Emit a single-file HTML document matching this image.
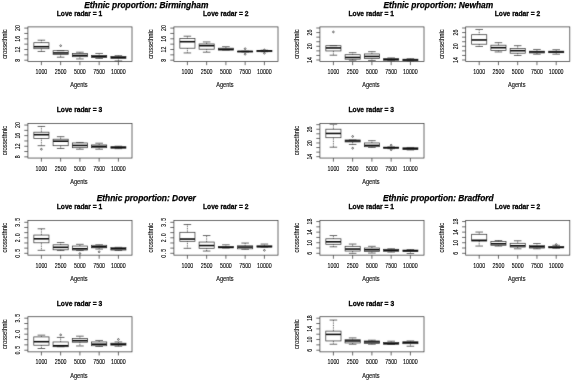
<!DOCTYPE html>
<html><head><meta charset="utf-8"><title>Ethnic proportion boxplots</title>
<style>
html,body{margin:0;padding:0;background:#fff}
svg{display:block}
text{font-family:"Liberation Sans",Arial,sans-serif;fill:#000;stroke:#000;stroke-width:0.08px}
.ln{fill:none;stroke:#3c3c3c;stroke-width:0.75}
.bx{fill:#fff;stroke:#3c3c3c;stroke-width:0.75}
.wh{fill:none;stroke:#3c3c3c;stroke-width:0.75;stroke-dasharray:1 0.7}
.md{fill:none;stroke:#111;stroke-width:1.6}
.ax{font-size:5.2px}
.xl{font-size:5.3px}
.lab{font-size:5.6px;fill:#111;stroke:#111;stroke-width:0.12px}
.yl{font-size:5.85px;fill:#1a1a1a;stroke:#1a1a1a;stroke-width:0.1px}
.tt{font-size:6.7px;font-weight:bold;fill:#000;stroke:#000;stroke-width:0.28px}
.mt{font-size:8.4px;font-weight:bold;font-style:italic;fill:#000;stroke:#000;stroke-width:0.25px}
</style></head>
<body>
<svg width="572" height="381" viewBox="0 0 572 381">
<defs><filter id="soft" x="0" y="0" width="572" height="381" filterUnits="userSpaceOnUse" color-interpolation-filters="sRGB"><feConvolveMatrix order="3" kernelMatrix="0.015 0.055 0.015 0.055 0.72 0.055 0.015 0.055 0.015" divisor="1" preserveAlpha="false" edgeMode="none"/></filter></defs>
<rect width="572" height="381" fill="#fff"/>
<g filter="url(#soft)">
<g><rect x="27.9" y="26.9" width="104.1" height="34.65" class="ln"/><path d="M27.9 28.1h-3.6M27.9 33.45h-3.6M27.9 38.8h-3.6M27.9 44.15h-3.6M27.9 49.5h-3.6M27.9 54.85h-3.6M27.9 60.2h-3.6M41.4 61.55v3.6M60.65 61.55v3.6M79.9 61.55v3.6M99.15 61.55v3.6M118.4 61.55v3.6" class="ln"/><rect x="33.84" y="42.7" width="15.12" height="6" class="bx"/><path d="M41.4 42.7V40.2M41.4 48.7V51.45" class="wh"/><path d="M37.62 40.2h7.56M37.62 51.45h7.56" class="ln"/><path d="M33.84 46.7h15.12" class="md"/><rect x="53.09" y="50.7" width="15.12" height="3.75" class="bx"/><path d="M60.65 54.45V57.2" class="wh"/><path d="M56.87 50.7h7.56M56.87 57.2h7.56" class="ln"/><path d="M53.09 52.95h15.12" class="md"/><circle cx="60.65" cy="45.7" r="0.85" class="ln"/><rect x="72.34" y="53.45" width="15.12" height="3.25" class="bx"/><path d="M79.9 53.45V52.2M79.9 56.7V58.95" class="wh"/><path d="M76.12 52.2h7.56M76.12 58.95h7.56" class="ln"/><path d="M72.34 55.45h15.12" class="md"/><rect x="91.59" y="55.45" width="15.12" height="2" class="bx"/><path d="M99.15 55.45V53.45M99.15 57.45V58.45" class="wh"/><path d="M95.37 53.45h7.56M95.37 58.45h7.56" class="ln"/><path d="M91.59 56.45h15.12" class="md"/><rect x="110.84" y="56.45" width="15.12" height="2" class="bx"/><path d="M118.4 56.45V55.7M118.4 58.45V60.95" class="wh"/><path d="M114.62 55.7h7.56M114.62 60.95h7.56" class="ln"/><path d="M110.84 57.45h15.12" class="md"/></g>
<g><rect x="173.9" y="26.9" width="104.1" height="34.65" class="ln"/><path d="M173.9 28.1h-3.6M173.9 33.45h-3.6M173.9 38.8h-3.6M173.9 44.15h-3.6M173.9 49.5h-3.6M173.9 54.85h-3.6M173.9 60.2h-3.6M187.4 61.55v3.6M206.65 61.55v3.6M225.9 61.55v3.6M245.15 61.55v3.6M264.4 61.55v3.6" class="ln"/><rect x="179.84" y="38.45" width="15.12" height="9.75" class="bx"/><path d="M187.4 38.45V36.2M187.4 48.2V52.95" class="wh"/><path d="M183.62 36.2h7.56M183.62 52.95h7.56" class="ln"/><path d="M179.84 41.7h15.12" class="md"/><rect x="199.09" y="43.95" width="15.12" height="5.25" class="bx"/><path d="M206.65 43.95V41.95M206.65 49.2V52.2" class="wh"/><path d="M202.87 41.95h7.56M202.87 52.2h7.56" class="ln"/><path d="M199.09 45.7h15.12" class="md"/><rect x="218.34" y="48.2" width="15.12" height="1.88" class="bx"/><path d="M225.9 48.2V46.7" class="wh"/><path d="M222.12 46.7h7.56M222.12 50.08h7.56" class="ln"/><path d="M218.34 49.33h15.12" class="md"/><rect x="237.59" y="51.2" width="15.12" height="0.75" class="bx"/><path d="M241.37 51.2h7.56M241.37 51.95h7.56" class="ln"/><path d="M237.59 51.45h15.12" class="md"/><circle cx="245.15" cy="48.7" r="0.85" class="ln"/><circle cx="245.15" cy="54.2" r="0.85" class="ln"/><rect x="256.84" y="50.45" width="15.12" height="1.25" class="bx"/><path d="M260.62 50.2h7.56M260.62 51.7h7.56" class="ln"/><path d="M256.84 50.95h15.12" class="md"/><circle cx="264.4" cy="49.95" r="0.85" class="ln"/><circle cx="264.4" cy="53.2" r="0.85" class="ln"/></g>
<g><rect x="27.9" y="123.4" width="104.1" height="34.65" class="ln"/><path d="M27.9 125.05h-3.6M27.9 130.35h-3.6M27.9 135.65h-3.6M27.9 140.95h-3.6M27.9 146.25h-3.6M27.9 151.55h-3.6M27.9 156.85h-3.6M41.4 158.05v3.6M60.65 158.05v3.6M79.9 158.05v3.6M99.15 158.05v3.6M118.4 158.05v3.6" class="ln"/><rect x="33.84" y="132.2" width="15.12" height="6.25" class="bx"/><path d="M41.4 132.2V126.45M41.4 138.45V145.7" class="wh"/><path d="M37.62 126.45h7.56M37.62 145.7h7.56" class="ln"/><path d="M33.84 134.7h15.12" class="md"/><circle cx="41.4" cy="149.2" r="0.85" class="ln"/><rect x="53.09" y="139.2" width="15.12" height="6.5" class="bx"/><path d="M60.65 139.2V136.7M60.65 145.7V148.45" class="wh"/><path d="M56.87 136.7h7.56M56.87 148.45h7.56" class="ln"/><path d="M53.09 141.2h15.12" class="md"/><rect x="72.34" y="142.95" width="15.12" height="4.75" class="bx"/><path d="M79.9 142.95V142.45M79.9 147.7V149.2" class="wh"/><path d="M76.12 142.45h7.56M76.12 149.2h7.56" class="ln"/><path d="M72.34 145.45h15.12" class="md"/><rect x="91.59" y="144.95" width="15.12" height="2.75" class="bx"/><path d="M99.15 144.95V143.2M99.15 147.7V149.2" class="wh"/><path d="M95.37 143.2h7.56M95.37 149.2h7.56" class="ln"/><path d="M91.59 146.45h15.12" class="md"/><rect x="110.84" y="146.7" width="15.12" height="1.5" class="bx"/><path d="M118.4 146.7V146.2M118.4 148.2V148.7" class="wh"/><path d="M114.62 146.2h7.56M114.62 148.7h7.56" class="ln"/><path d="M110.84 147.45h15.12" class="md"/></g>
<g><rect x="319.9" y="26.9" width="104.1" height="34.65" class="ln"/><path d="M319.9 60h-3.6M319.9 55.43h-3.6M319.9 50.86h-3.6M319.9 46.29h-3.6M319.9 41.72h-3.6M319.9 37.15h-3.6M319.9 32.58h-3.6M319.9 28.01h-3.6M333.4 61.55v3.6M352.65 61.55v3.6M371.9 61.55v3.6M391.15 61.55v3.6M410.4 61.55v3.6" class="ln"/><rect x="325.84" y="45.7" width="15.12" height="5.25" class="bx"/><path d="M333.4 50.95V55.2" class="wh"/><path d="M329.62 45.7h7.56M329.62 55.2h7.56" class="ln"/><path d="M325.84 47.95h15.12" class="md"/><circle cx="333.4" cy="31.95" r="0.85" class="ln"/><rect x="345.09" y="54.7" width="15.12" height="4.5" class="bx"/><path d="M352.65 54.7V52.7M352.65 59.2V60.2" class="wh"/><path d="M348.87 52.7h7.56M348.87 60.2h7.56" class="ln"/><path d="M345.09 57.45h15.12" class="md"/><rect x="364.34" y="53.95" width="15.12" height="4.5" class="bx"/><path d="M371.9 53.95V51.7M371.9 58.45V60.45" class="wh"/><path d="M368.12 51.7h7.56M368.12 60.45h7.56" class="ln"/><path d="M364.34 56.45h15.12" class="md"/><rect x="383.59" y="58.7" width="15.12" height="1.5" class="bx"/><path d="M391.15 58.7V57.95M391.15 60.2V60.7" class="wh"/><path d="M387.37 57.95h7.56M387.37 60.7h7.56" class="ln"/><path d="M383.59 59.45h15.12" class="md"/><rect x="402.84" y="59.2" width="15.12" height="1.5" class="bx"/><path d="M410.4 59.2V58.7" class="wh"/><path d="M406.62 58.7h7.56M406.62 60.95h7.56" class="ln"/><path d="M402.84 59.95h15.12" class="md"/></g>
<g><rect x="465.7" y="26.9" width="104.1" height="34.65" class="ln"/><path d="M465.7 60h-3.6M465.7 55.43h-3.6M465.7 50.86h-3.6M465.7 46.29h-3.6M465.7 41.72h-3.6M465.7 37.15h-3.6M465.7 32.58h-3.6M465.7 28.01h-3.6M479.2 61.55v3.6M498.45 61.55v3.6M517.7 61.55v3.6M536.95 61.55v3.6M556.2 61.55v3.6" class="ln"/><rect x="471.64" y="34.7" width="15.12" height="9.5" class="bx"/><path d="M479.2 34.7V29.45M479.2 44.2V46.45" class="wh"/><path d="M475.42 29.45h7.56M475.42 46.45h7.56" class="ln"/><path d="M471.64 39.95h15.12" class="md"/><rect x="490.89" y="45.2" width="15.12" height="5.25" class="bx"/><path d="M498.45 45.2V42.7M498.45 50.45V51.95" class="wh"/><path d="M494.67 42.7h7.56M494.67 51.95h7.56" class="ln"/><path d="M490.89 47.7h15.12" class="md"/><rect x="510.14" y="48.45" width="15.12" height="4.75" class="bx"/><path d="M517.7 48.45V45.7M517.7 53.2V55.45" class="wh"/><path d="M513.92 45.7h7.56M513.92 55.45h7.56" class="ln"/><path d="M510.14 50.7h15.12" class="md"/><rect x="529.39" y="51.2" width="15.12" height="1.75" class="bx"/><path d="M536.95 51.2V49.45M536.95 52.95V54.2" class="wh"/><path d="M533.17 49.45h7.56M533.17 54.2h7.56" class="ln"/><path d="M529.39 51.95h15.12" class="md"/><rect x="548.64" y="51.2" width="15.12" height="1.5" class="bx"/><path d="M556.2 51.2V49.7M556.2 52.7V54.2" class="wh"/><path d="M552.42 49.7h7.56M552.42 54.2h7.56" class="ln"/><path d="M548.64 51.95h15.12" class="md"/></g>
<g><rect x="319.9" y="123.4" width="104.1" height="34.65" class="ln"/><path d="M319.9 156.7h-3.6M319.9 152.12h-3.6M319.9 147.55h-3.6M319.9 142.97h-3.6M319.9 138.4h-3.6M319.9 133.82h-3.6M319.9 129.25h-3.6M319.9 124.67h-3.6M333.4 158.05v3.6M352.65 158.05v3.6M371.9 158.05v3.6M391.15 158.05v3.6M410.4 158.05v3.6" class="ln"/><rect x="325.84" y="129.2" width="15.12" height="8.5" class="bx"/><path d="M333.4 129.2V124.2M333.4 137.7V147.2" class="wh"/><path d="M329.62 124.2h7.56M329.62 147.2h7.56" class="ln"/><path d="M325.84 133.45h15.12" class="md"/><rect x="345.09" y="139.95" width="15.12" height="2" class="bx"/><path d="M352.65 141.95V144.45" class="wh"/><path d="M348.87 139.95h7.56M348.87 144.45h7.56" class="ln"/><path d="M345.09 140.95h15.12" class="md"/><circle cx="352.65" cy="136.45" r="0.85" class="ln"/><circle cx="352.65" cy="148.2" r="0.85" class="ln"/><rect x="364.34" y="142.95" width="15.12" height="3.75" class="bx"/><path d="M371.9 142.95V140.7M371.9 146.7V147.45" class="wh"/><path d="M368.12 140.7h7.56M368.12 147.45h7.56" class="ln"/><path d="M364.34 145.45h15.12" class="md"/><rect x="383.59" y="147.2" width="15.12" height="1" class="bx"/><path d="M391.15 148.2V148.7" class="wh"/><path d="M387.37 146.95h7.56M387.37 148.7h7.56" class="ln"/><path d="M383.59 147.7h15.12" class="md"/><circle cx="391.15" cy="145.2" r="0.85" class="ln"/><circle cx="391.15" cy="149.7" r="0.85" class="ln"/><rect x="402.84" y="147.7" width="15.12" height="1.75" class="bx"/><path d="M410.4 149.45V149.95" class="wh"/><path d="M406.62 147.45h7.56M406.62 149.95h7.56" class="ln"/><path d="M402.84 148.7h15.12" class="md"/></g>
<g><rect x="27.9" y="220.5" width="104.1" height="34.65" class="ln"/><path d="M27.9 253.3h-3.6M27.9 248.13h-3.6M27.9 242.97h-3.6M27.9 237.8h-3.6M27.9 232.63h-3.6M27.9 227.46h-3.6M27.9 222.3h-3.6M41.4 255.15v3.6M60.65 255.15v3.6M79.9 255.15v3.6M99.15 255.15v3.6M118.4 255.15v3.6" class="ln"/><rect x="33.84" y="235.05" width="15.12" height="7.75" class="bx"/><path d="M41.4 235.05V228.8M41.4 242.8V250.3" class="wh"/><path d="M37.62 228.8h7.56M37.62 250.3h7.56" class="ln"/><path d="M33.84 238.8h15.12" class="md"/><rect x="53.09" y="244.8" width="15.12" height="5" class="bx"/><path d="M60.65 244.8V242.55M60.65 249.8V250.55" class="wh"/><path d="M56.87 242.55h7.56M56.87 250.55h7.56" class="ln"/><path d="M53.09 247.3h15.12" class="md"/><rect x="72.34" y="246.05" width="15.12" height="4" class="bx"/><path d="M79.9 246.05V244.3M79.9 250.05V250.55" class="wh"/><path d="M76.12 244.3h7.56M76.12 250.55h7.56" class="ln"/><path d="M72.34 248.8h15.12" class="md"/><circle cx="79.9" cy="253.55" r="0.85" class="ln"/><rect x="91.59" y="245.3" width="15.12" height="2.5" class="bx"/><path d="M99.15 245.3V244.8M99.15 247.8V249.05" class="wh"/><path d="M95.37 244.8h7.56M95.37 249.05h7.56" class="ln"/><path d="M91.59 246.8h15.12" class="md"/><circle cx="99.15" cy="251.8" r="0.85" class="ln"/><rect x="110.84" y="247.55" width="15.12" height="2.5" class="bx"/><path d="M118.4 250.05V250.55" class="wh"/><path d="M114.62 247.3h7.56M114.62 250.55h7.56" class="ln"/><path d="M110.84 248.8h15.12" class="md"/></g>
<g><rect x="173.9" y="220.5" width="104.1" height="34.65" class="ln"/><path d="M173.9 253.3h-3.6M173.9 248.13h-3.6M173.9 242.97h-3.6M173.9 237.8h-3.6M173.9 232.63h-3.6M173.9 227.46h-3.6M173.9 222.3h-3.6M187.4 255.15v3.6M206.65 255.15v3.6M225.9 255.15v3.6M245.15 255.15v3.6M264.4 255.15v3.6" class="ln"/><rect x="179.84" y="232.3" width="15.12" height="9" class="bx"/><path d="M187.4 232.3V224.55M187.4 241.3V248.3" class="wh"/><path d="M183.62 224.55h7.56M183.62 248.3h7.56" class="ln"/><path d="M179.84 239.05h15.12" class="md"/><rect x="199.09" y="242.05" width="15.12" height="6.25" class="bx"/><path d="M206.65 242.05V235.55M206.65 248.3V251.05" class="wh"/><path d="M202.87 235.55h7.56M202.87 251.05h7.56" class="ln"/><path d="M199.09 245.55h15.12" class="md"/><rect x="218.34" y="246.55" width="15.12" height="1.25" class="bx"/><path d="M225.9 246.55V244.8" class="wh"/><path d="M222.12 244.8h7.56M222.12 248.05h7.56" class="ln"/><path d="M218.34 247.3h15.12" class="md"/><rect x="237.59" y="245.8" width="15.12" height="3" class="bx"/><path d="M245.15 245.8V243.05M245.15 248.8V249.3" class="wh"/><path d="M241.37 243.05h7.56M241.37 249.3h7.56" class="ln"/><path d="M237.59 247.05h15.12" class="md"/><rect x="256.84" y="245.8" width="15.12" height="1.25" class="bx"/><path d="M264.4 245.8V244.05" class="wh"/><path d="M260.62 244.05h7.56M260.62 247.05h7.56" class="ln"/><path d="M256.84 246.55h15.12" class="md"/><circle cx="264.4" cy="250.3" r="0.85" class="ln"/></g>
<g><rect x="27.9" y="316.72" width="104.1" height="35.14" class="ln"/><path d="M27.9 350.21h-3.6M27.9 344.87h-3.6M27.9 339.53h-3.6M27.9 334.2h-3.6M27.9 328.86h-3.6M27.9 323.52h-3.6M27.9 318.18h-3.6M41.4 351.86v3.6M60.65 351.86v3.6M79.9 351.86v3.6M99.15 351.86v3.6M118.4 351.86v3.6" class="ln"/><rect x="33.78" y="336.91" width="15.23" height="8.31" class="bx"/><path d="M41.4 336.91V335.15M41.4 345.22V348.5" class="wh"/><path d="M37.59 335.15h7.62M37.59 348.5h7.62" class="ln"/><path d="M33.78 341.7h15.23" class="md"/><rect x="53.03" y="341.95" width="15.23" height="4.78" class="bx"/><path d="M60.65 341.95V337.42" class="wh"/><path d="M56.84 337.42h7.62M56.84 346.73h7.62" class="ln"/><path d="M53.03 345.73h15.23" class="md"/><circle cx="60.65" cy="334.9" r="0.85" class="ln"/><rect x="72.28" y="338.43" width="15.23" height="3.78" class="bx"/><path d="M79.9 338.43V336.16M79.9 342.2V345.98" class="wh"/><path d="M76.09 336.16h7.62M76.09 345.98h7.62" class="ln"/><path d="M72.28 340.69h15.23" class="md"/><rect x="91.53" y="341.95" width="15.23" height="3.78" class="bx"/><path d="M99.15 341.95V340.44M99.15 345.73V346.48" class="wh"/><path d="M95.34 340.44h7.62M95.34 346.48h7.62" class="ln"/><path d="M91.53 344.22h15.23" class="md"/><rect x="110.78" y="343.21" width="15.23" height="2.01" class="bx"/><path d="M118.4 343.21V341.95M118.4 345.22V346.23" class="wh"/><path d="M114.59 341.95h7.62M114.59 346.23h7.62" class="ln"/><path d="M110.78 344.22h15.23" class="md"/><circle cx="118.4" cy="339.43" r="0.85" class="ln"/></g>
<g><rect x="319.9" y="220.5" width="104.1" height="34.65" class="ln"/><path d="M319.9 253.3h-3.6M319.9 248.01h-3.6M319.9 242.72h-3.6M319.9 237.42h-3.6M319.9 232.13h-3.6M319.9 226.84h-3.6M319.9 221.55h-3.6M333.4 255.15v3.6M352.65 255.15v3.6M371.9 255.15v3.6M391.15 255.15v3.6M410.4 255.15v3.6" class="ln"/><rect x="325.84" y="238.8" width="15.12" height="5.5" class="bx"/><path d="M333.4 238.8V235.55M333.4 244.3V246.8" class="wh"/><path d="M329.62 235.55h7.56M329.62 246.8h7.56" class="ln"/><path d="M325.84 241.8h15.12" class="md"/><rect x="345.09" y="246.3" width="15.12" height="4.75" class="bx"/><path d="M352.65 246.3V244.05M352.65 251.05V253.3" class="wh"/><path d="M348.87 244.05h7.56M348.87 253.3h7.56" class="ln"/><path d="M345.09 249.05h15.12" class="md"/><rect x="364.34" y="248.05" width="15.12" height="3.5" class="bx"/><path d="M371.9 248.05V246.3M371.9 251.55V253.05" class="wh"/><path d="M368.12 246.3h7.56M368.12 253.05h7.56" class="ln"/><path d="M364.34 249.8h15.12" class="md"/><rect x="383.59" y="249.3" width="15.12" height="2" class="bx"/><path d="M391.15 249.3V248.8M391.15 251.3V252.05" class="wh"/><path d="M387.37 248.8h7.56M387.37 252.05h7.56" class="ln"/><path d="M383.59 250.3h15.12" class="md"/><rect x="402.84" y="250.05" width="15.12" height="1.5" class="bx"/><path d="M410.4 250.05V249.55M410.4 251.55V253.55" class="wh"/><path d="M406.62 249.55h7.56M406.62 253.55h7.56" class="ln"/><path d="M402.84 250.8h15.12" class="md"/></g>
<g><rect x="465.7" y="220.5" width="104.1" height="34.65" class="ln"/><path d="M465.7 253.3h-3.6M465.7 248.01h-3.6M465.7 242.72h-3.6M465.7 237.42h-3.6M465.7 232.13h-3.6M465.7 226.84h-3.6M465.7 221.55h-3.6M479.2 255.15v3.6M498.45 255.15v3.6M517.7 255.15v3.6M536.95 255.15v3.6M556.2 255.15v3.6" class="ln"/><rect x="471.64" y="234.3" width="15.12" height="6.75" class="bx"/><path d="M479.2 234.3V232.05M479.2 241.05V246.05" class="wh"/><path d="M475.42 232.05h7.56M475.42 246.05h7.56" class="ln"/><path d="M471.64 240.3h15.12" class="md"/><rect x="490.89" y="241.55" width="15.12" height="3.75" class="bx"/><path d="M498.45 241.55V240.55M498.45 245.3V246.05" class="wh"/><path d="M494.67 240.55h7.56M494.67 246.05h7.56" class="ln"/><path d="M490.89 243.8h15.12" class="md"/><rect x="510.14" y="243.3" width="15.12" height="3.75" class="bx"/><path d="M517.7 243.3V240.8M517.7 247.05V248.8" class="wh"/><path d="M513.92 240.8h7.56M513.92 248.8h7.56" class="ln"/><path d="M510.14 245.8h15.12" class="md"/><rect x="529.39" y="245.55" width="15.12" height="2.5" class="bx"/><path d="M536.95 245.55V243.55M536.95 248.05V248.8" class="wh"/><path d="M533.17 243.55h7.56M533.17 248.8h7.56" class="ln"/><path d="M529.39 246.8h15.12" class="md"/><rect x="548.64" y="246.55" width="15.12" height="1.25" class="bx"/><path d="M556.2 246.55V245.3M556.2 247.8V248.3" class="wh"/><path d="M552.42 245.3h7.56M552.42 248.3h7.56" class="ln"/><path d="M548.64 247.3h15.12" class="md"/><circle cx="556.2" cy="244.55" r="0.85" class="ln"/></g>
<g><rect x="319.9" y="316.72" width="104.1" height="35.14" class="ln"/><path d="M319.9 350.21h-3.6M319.9 344.87h-3.6M319.9 339.53h-3.6M319.9 334.2h-3.6M319.9 328.86h-3.6M319.9 323.52h-3.6M319.9 318.18h-3.6M333.4 351.86v3.6M352.65 351.86v3.6M371.9 351.86v3.6M391.15 351.86v3.6M410.4 351.86v3.6" class="ln"/><rect x="325.78" y="331.12" width="15.23" height="9.82" class="bx"/><path d="M333.4 331.12V320.05M333.4 340.94V344.22" class="wh"/><path d="M329.59 320.05h7.62M329.59 344.22h7.62" class="ln"/><path d="M325.78 334.4h15.23" class="md"/><rect x="345.03" y="339.68" width="15.23" height="3.27" class="bx"/><path d="M352.65 339.68V337.92M352.65 342.96V344.22" class="wh"/><path d="M348.84 337.92h7.62M348.84 344.22h7.62" class="ln"/><path d="M345.03 340.94h15.23" class="md"/><rect x="364.28" y="340.94" width="15.23" height="2.52" class="bx"/><path d="M371.9 340.94V340.19M371.9 343.46V344.22" class="wh"/><path d="M368.09 340.19h7.62M368.09 344.22h7.62" class="ln"/><path d="M364.28 341.95h15.23" class="md"/><rect x="383.53" y="342.45" width="15.23" height="1.76" class="bx"/><path d="M391.15 342.45V341.19" class="wh"/><path d="M387.34 341.19h7.62M387.34 344.47h7.62" class="ln"/><path d="M383.53 343.46h15.23" class="md"/><rect x="402.78" y="341.7" width="15.23" height="2.01" class="bx"/><path d="M410.4 341.7V340.94M410.4 343.71V346.23" class="wh"/><path d="M406.59 340.94h7.62M406.59 346.23h7.62" class="ln"/><path d="M402.78 342.7h15.23" class="md"/></g>
</g>
<g>
<g><text class="ax" transform="translate(20 28.1) rotate(-90) scale(1 1.27)" text-anchor="middle">20</text><text class="ax" transform="translate(20 38.8) rotate(-90) scale(1 1.27)" text-anchor="middle">16</text><text class="ax" transform="translate(20 49.5) rotate(-90) scale(1 1.27)" text-anchor="middle">12</text><text class="ax" transform="translate(20 60.2) rotate(-90) scale(1 1.27)" text-anchor="middle">8</text><text class="ax xl" transform="translate(41.4 74) scale(1 1.2)" text-anchor="middle">1000</text><text class="ax xl" transform="translate(60.65 74) scale(1 1.2)" text-anchor="middle">2500</text><text class="ax xl" transform="translate(79.9 74) scale(1 1.2)" text-anchor="middle">5000</text><text class="ax xl" transform="translate(99.15 74) scale(1 1.2)" text-anchor="middle">7500</text><text class="ax xl" transform="translate(118.4 74) scale(1 1.2)" text-anchor="middle">10000</text><text class="lab" transform="translate(78.95 87) scale(1 1.13)" text-anchor="middle">Agents</text><text class="lab yl" transform="translate(6.5 44.08) rotate(-90) scale(1 1.12)" text-anchor="middle">crossethnic</text><text class="tt" x="79.5" y="15.6" text-anchor="middle">Love radar = 1</text></g>
<g><text class="ax" transform="translate(166 28.1) rotate(-90) scale(1 1.27)" text-anchor="middle">20</text><text class="ax" transform="translate(166 38.8) rotate(-90) scale(1 1.27)" text-anchor="middle">16</text><text class="ax" transform="translate(166 49.5) rotate(-90) scale(1 1.27)" text-anchor="middle">12</text><text class="ax" transform="translate(166 60.2) rotate(-90) scale(1 1.27)" text-anchor="middle">8</text><text class="ax xl" transform="translate(187.4 74) scale(1 1.2)" text-anchor="middle">1000</text><text class="ax xl" transform="translate(206.65 74) scale(1 1.2)" text-anchor="middle">2500</text><text class="ax xl" transform="translate(225.9 74) scale(1 1.2)" text-anchor="middle">5000</text><text class="ax xl" transform="translate(245.15 74) scale(1 1.2)" text-anchor="middle">7500</text><text class="ax xl" transform="translate(264.4 74) scale(1 1.2)" text-anchor="middle">10000</text><text class="lab" transform="translate(224.95 87) scale(1 1.13)" text-anchor="middle">Agents</text><text class="lab yl" transform="translate(152.5 44.08) rotate(-90) scale(1 1.12)" text-anchor="middle">crossethnic</text><text class="tt" x="225.75" y="15.6" text-anchor="middle">Love radar = 2</text></g>
<g><text class="ax" transform="translate(20 125.05) rotate(-90) scale(1 1.27)" text-anchor="middle">20</text><text class="ax" transform="translate(20 135.65) rotate(-90) scale(1 1.27)" text-anchor="middle">16</text><text class="ax" transform="translate(20 146.25) rotate(-90) scale(1 1.27)" text-anchor="middle">12</text><text class="ax" transform="translate(20 156.85) rotate(-90) scale(1 1.27)" text-anchor="middle">8</text><text class="ax xl" transform="translate(41.4 171) scale(1 1.2)" text-anchor="middle">1000</text><text class="ax xl" transform="translate(60.65 171) scale(1 1.2)" text-anchor="middle">2500</text><text class="ax xl" transform="translate(79.9 171) scale(1 1.2)" text-anchor="middle">5000</text><text class="ax xl" transform="translate(99.15 171) scale(1 1.2)" text-anchor="middle">7500</text><text class="ax xl" transform="translate(118.4 171) scale(1 1.2)" text-anchor="middle">10000</text><text class="lab" transform="translate(78.95 184) scale(1 1.13)" text-anchor="middle">Agents</text><text class="lab yl" transform="translate(6.5 140.57) rotate(-90) scale(1 1.12)" text-anchor="middle">crossethnic</text><text class="tt" x="79.5" y="112.2" text-anchor="middle">Love radar = 3</text></g>
<g><text class="ax" transform="translate(312 32.58) rotate(-90) scale(1 1.27)" text-anchor="middle">26</text><text class="ax" transform="translate(312 46.3) rotate(-90) scale(1 1.27)" text-anchor="middle">20</text><text class="ax" transform="translate(312 60) rotate(-90) scale(1 1.27)" text-anchor="middle">14</text><text class="ax xl" transform="translate(333.4 74) scale(1 1.2)" text-anchor="middle">1000</text><text class="ax xl" transform="translate(352.65 74) scale(1 1.2)" text-anchor="middle">2500</text><text class="ax xl" transform="translate(371.9 74) scale(1 1.2)" text-anchor="middle">5000</text><text class="ax xl" transform="translate(391.15 74) scale(1 1.2)" text-anchor="middle">7500</text><text class="ax xl" transform="translate(410.4 74) scale(1 1.2)" text-anchor="middle">10000</text><text class="lab" transform="translate(370.95 87) scale(1 1.13)" text-anchor="middle">Agents</text><text class="lab yl" transform="translate(298.5 44.08) rotate(-90) scale(1 1.12)" text-anchor="middle">crossethnic</text><text class="tt" x="371.25" y="15.6" text-anchor="middle">Love radar = 1</text></g>
<g><text class="ax" transform="translate(457.8 32.58) rotate(-90) scale(1 1.27)" text-anchor="middle">26</text><text class="ax" transform="translate(457.8 46.3) rotate(-90) scale(1 1.27)" text-anchor="middle">20</text><text class="ax" transform="translate(457.8 60) rotate(-90) scale(1 1.27)" text-anchor="middle">14</text><text class="ax xl" transform="translate(479.2 74) scale(1 1.2)" text-anchor="middle">1000</text><text class="ax xl" transform="translate(498.45 74) scale(1 1.2)" text-anchor="middle">2500</text><text class="ax xl" transform="translate(517.7 74) scale(1 1.2)" text-anchor="middle">5000</text><text class="ax xl" transform="translate(536.95 74) scale(1 1.2)" text-anchor="middle">7500</text><text class="ax xl" transform="translate(556.2 74) scale(1 1.2)" text-anchor="middle">10000</text><text class="lab" transform="translate(516.75 87) scale(1 1.13)" text-anchor="middle">Agents</text><text class="lab yl" transform="translate(444.3 44.08) rotate(-90) scale(1 1.12)" text-anchor="middle">crossethnic</text><text class="tt" x="517.5" y="15.6" text-anchor="middle">Love radar = 2</text></g>
<g><text class="ax" transform="translate(312 129.45) rotate(-90) scale(1 1.27)" text-anchor="middle">26</text><text class="ax" transform="translate(312 143.2) rotate(-90) scale(1 1.27)" text-anchor="middle">20</text><text class="ax" transform="translate(312 156.7) rotate(-90) scale(1 1.27)" text-anchor="middle">14</text><text class="ax xl" transform="translate(333.4 171) scale(1 1.2)" text-anchor="middle">1000</text><text class="ax xl" transform="translate(352.65 171) scale(1 1.2)" text-anchor="middle">2500</text><text class="ax xl" transform="translate(371.9 171) scale(1 1.2)" text-anchor="middle">5000</text><text class="ax xl" transform="translate(391.15 171) scale(1 1.2)" text-anchor="middle">7500</text><text class="ax xl" transform="translate(410.4 171) scale(1 1.2)" text-anchor="middle">10000</text><text class="lab" transform="translate(370.95 184) scale(1 1.13)" text-anchor="middle">Agents</text><text class="lab yl" transform="translate(298.5 140.57) rotate(-90) scale(1 1.12)" text-anchor="middle">crossethnic</text><text class="tt" x="371.25" y="112.2" text-anchor="middle">Love radar = 3</text></g>
<g><text class="ax" transform="translate(20 221.9) rotate(-90) scale(1 1.27)" text-anchor="middle" style="letter-spacing:0.8px">3.5</text><text class="ax" transform="translate(20 237.4) rotate(-90) scale(1 1.27)" text-anchor="middle" style="letter-spacing:0.8px">2.0</text><text class="ax" transform="translate(20 252.9) rotate(-90) scale(1 1.27)" text-anchor="middle" style="letter-spacing:0.8px">0.5</text><text class="ax xl" transform="translate(41.4 268) scale(1 1.2)" text-anchor="middle">1000</text><text class="ax xl" transform="translate(60.65 268) scale(1 1.2)" text-anchor="middle">2500</text><text class="ax xl" transform="translate(79.9 268) scale(1 1.2)" text-anchor="middle">5000</text><text class="ax xl" transform="translate(99.15 268) scale(1 1.2)" text-anchor="middle">7500</text><text class="ax xl" transform="translate(118.4 268) scale(1 1.2)" text-anchor="middle">10000</text><text class="lab" transform="translate(78.95 281) scale(1 1.13)" text-anchor="middle">Agents</text><text class="lab yl" transform="translate(6.5 237.67) rotate(-90) scale(1 1.12)" text-anchor="middle">crossethnic</text><text class="tt" x="79.5" y="209.3" text-anchor="middle">Love radar = 1</text></g>
<g><text class="ax" transform="translate(166 221.9) rotate(-90) scale(1 1.27)" text-anchor="middle" style="letter-spacing:0.8px">3.5</text><text class="ax" transform="translate(166 237.4) rotate(-90) scale(1 1.27)" text-anchor="middle" style="letter-spacing:0.8px">2.0</text><text class="ax" transform="translate(166 252.9) rotate(-90) scale(1 1.27)" text-anchor="middle" style="letter-spacing:0.8px">0.5</text><text class="ax xl" transform="translate(187.4 268) scale(1 1.2)" text-anchor="middle">1000</text><text class="ax xl" transform="translate(206.65 268) scale(1 1.2)" text-anchor="middle">2500</text><text class="ax xl" transform="translate(225.9 268) scale(1 1.2)" text-anchor="middle">5000</text><text class="ax xl" transform="translate(245.15 268) scale(1 1.2)" text-anchor="middle">7500</text><text class="ax xl" transform="translate(264.4 268) scale(1 1.2)" text-anchor="middle">10000</text><text class="lab" transform="translate(224.95 281) scale(1 1.13)" text-anchor="middle">Agents</text><text class="lab yl" transform="translate(152.5 237.67) rotate(-90) scale(1 1.12)" text-anchor="middle">crossethnic</text><text class="tt" x="225.75" y="209.3" text-anchor="middle">Love radar = 2</text></g>
<g><text class="ax" transform="translate(20 317.78) rotate(-90) scale(1 1.27)" text-anchor="middle" style="letter-spacing:0.8px">3.5</text><text class="ax" transform="translate(20 333.8) rotate(-90) scale(1 1.27)" text-anchor="middle" style="letter-spacing:0.8px">2.0</text><text class="ax" transform="translate(20 349.81) rotate(-90) scale(1 1.27)" text-anchor="middle" style="letter-spacing:0.8px">0.5</text><text class="ax xl" transform="translate(41.4 364) scale(1 1.2)" text-anchor="middle">1000</text><text class="ax xl" transform="translate(60.65 364) scale(1 1.2)" text-anchor="middle">2500</text><text class="ax xl" transform="translate(79.9 364) scale(1 1.2)" text-anchor="middle">5000</text><text class="ax xl" transform="translate(99.15 364) scale(1 1.2)" text-anchor="middle">7500</text><text class="ax xl" transform="translate(118.4 364) scale(1 1.2)" text-anchor="middle">10000</text><text class="lab" transform="translate(78.95 378) scale(1 1.13)" text-anchor="middle">Agents</text><text class="lab yl" transform="translate(6.5 334.14) rotate(-90) scale(1 1.12)" text-anchor="middle">crossethnic</text><text class="tt" x="79.56" y="305.93" text-anchor="middle">Love radar = 3</text></g>
<g><text class="ax" transform="translate(312 221.55) rotate(-90) scale(1 1.27)" text-anchor="middle">18</text><text class="ax" transform="translate(312 232.18) rotate(-90) scale(1 1.27)" text-anchor="middle">14</text><text class="ax" transform="translate(312 242.8) rotate(-90) scale(1 1.27)" text-anchor="middle">10</text><text class="ax" transform="translate(312 253.3) rotate(-90) scale(1 1.27)" text-anchor="middle">6</text><text class="ax xl" transform="translate(333.4 268) scale(1 1.2)" text-anchor="middle">1000</text><text class="ax xl" transform="translate(352.65 268) scale(1 1.2)" text-anchor="middle">2500</text><text class="ax xl" transform="translate(371.9 268) scale(1 1.2)" text-anchor="middle">5000</text><text class="ax xl" transform="translate(391.15 268) scale(1 1.2)" text-anchor="middle">7500</text><text class="ax xl" transform="translate(410.4 268) scale(1 1.2)" text-anchor="middle">10000</text><text class="lab" transform="translate(370.95 281) scale(1 1.13)" text-anchor="middle">Agents</text><text class="lab yl" transform="translate(298.5 237.67) rotate(-90) scale(1 1.12)" text-anchor="middle">crossethnic</text><text class="tt" x="371.25" y="209.3" text-anchor="middle">Love radar = 1</text></g>
<g><text class="ax" transform="translate(457.8 221.55) rotate(-90) scale(1 1.27)" text-anchor="middle">18</text><text class="ax" transform="translate(457.8 232.18) rotate(-90) scale(1 1.27)" text-anchor="middle">14</text><text class="ax" transform="translate(457.8 242.8) rotate(-90) scale(1 1.27)" text-anchor="middle">10</text><text class="ax" transform="translate(457.8 253.3) rotate(-90) scale(1 1.27)" text-anchor="middle">6</text><text class="ax xl" transform="translate(479.2 268) scale(1 1.2)" text-anchor="middle">1000</text><text class="ax xl" transform="translate(498.45 268) scale(1 1.2)" text-anchor="middle">2500</text><text class="ax xl" transform="translate(517.7 268) scale(1 1.2)" text-anchor="middle">5000</text><text class="ax xl" transform="translate(536.95 268) scale(1 1.2)" text-anchor="middle">7500</text><text class="ax xl" transform="translate(556.2 268) scale(1 1.2)" text-anchor="middle">10000</text><text class="lab" transform="translate(516.75 281) scale(1 1.13)" text-anchor="middle">Agents</text><text class="lab yl" transform="translate(444.3 237.67) rotate(-90) scale(1 1.12)" text-anchor="middle">crossethnic</text><text class="tt" x="517.5" y="209.3" text-anchor="middle">Love radar = 2</text></g>
<g><text class="ax" transform="translate(312 318.18) rotate(-90) scale(1 1.27)" text-anchor="middle">18</text><text class="ax" transform="translate(312 328.86) rotate(-90) scale(1 1.27)" text-anchor="middle">14</text><text class="ax" transform="translate(312 339.53) rotate(-90) scale(1 1.27)" text-anchor="middle">10</text><text class="ax" transform="translate(312 350.21) rotate(-90) scale(1 1.27)" text-anchor="middle">6</text><text class="ax xl" transform="translate(333.4 364) scale(1 1.2)" text-anchor="middle">1000</text><text class="ax xl" transform="translate(352.65 364) scale(1 1.2)" text-anchor="middle">2500</text><text class="ax xl" transform="translate(371.9 364) scale(1 1.2)" text-anchor="middle">5000</text><text class="ax xl" transform="translate(391.15 364) scale(1 1.2)" text-anchor="middle">7500</text><text class="ax xl" transform="translate(410.4 364) scale(1 1.2)" text-anchor="middle">10000</text><text class="lab" transform="translate(370.95 378) scale(1 1.13)" text-anchor="middle">Agents</text><text class="lab yl" transform="translate(298.5 334.14) rotate(-90) scale(1 1.12)" text-anchor="middle">crossethnic</text><text class="tt" x="371.35" y="305.93" text-anchor="middle">Love radar = 3</text></g>
<text class="mt" x="146.3" y="7.6" text-anchor="middle">Ethnic proportion: Birmingham</text>
<text class="mt" x="438.3" y="7.6" text-anchor="middle">Ethnic proportion: Newham</text>
<text class="mt" x="146.3" y="201.2" text-anchor="middle">Ethnic proportion: Dover</text>
<text class="mt" x="438.3" y="201.2" text-anchor="middle">Ethnic proportion: Bradford</text>
</g>
</svg>
</body></html>
